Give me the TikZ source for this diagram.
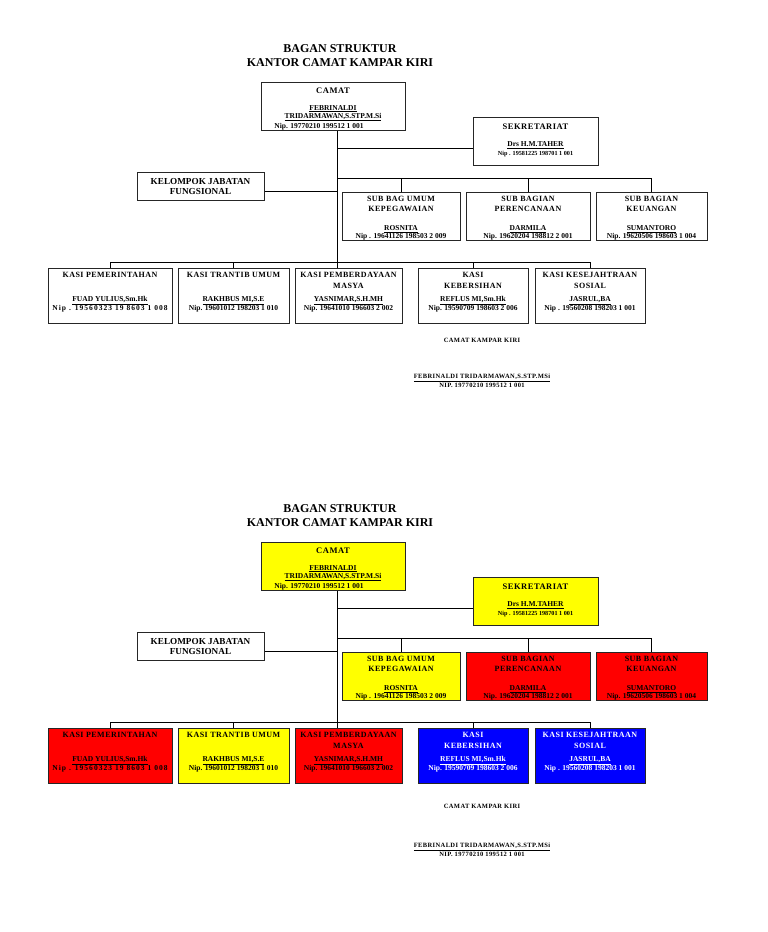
\documentclass[tikz,border=0pt]{standalone}
\usepackage{fontspec}
\setmainfont{Liberation Serif}
\newfontfamily\boxfont[LetterSpace=6]{Liberation Serif}
\newfontfamily\widefont[LetterSpace=14]{Liberation Serif}
\usetikzlibrary{positioning,calc}
\definecolor{ChartYellow}{HTML}{FFFF00}
\definecolor{ChartRed}{HTML}{FF0000}
\definecolor{ChartBlue}{HTML}{0000FF}

\tikzset{
  orgbox/.style={draw=black!85,line width=1pt,inner sep=0pt,
    font=\boxfont\fontsize{8}{9}\selectfont\bfseries},
  link/.style={draw=black,line width=0.8pt},
  tint camat/.style={fill=white},tint sekre/.style={fill=white},
  tint sub1/.style={fill=white},tint sub2/.style={fill=white},tint sub3/.style={fill=white},
  tint kasi1/.style={fill=white},tint kasi2/.style={fill=white},tint kasi3/.style={fill=white},
  tint kasi4/.style={fill=white},tint kasi5/.style={fill=white}
}
\newcommand{\nm}[1]{{\rmfamily\fontsize{7.5}{9}\selectfont\underline{#1}}}
\newcommand{\nip}[1]{{\rmfamily\fontsize{7.5}{9}\selectfont #1}}
\newcommand{\nipwide}[1]{{\widefont\fontsize{7.5}{9}\selectfont #1}}
\newcommand{\boxtitle}[1]{{\fontsize{8.5}{10}\selectfont #1}}
% a framed box whose lines start from its top edge: #1 name, #2 style, #3 centre, #4 width, #5 height, #6 lines
\newcommand{\orgnode}[6]{%
  \node[orgbox,#2,minimum width=#4pt,minimum height=#5pt] (#1) at (#3)
    {\parbox[c][\dimexpr#5pt-2pt\relax][t]{\dimexpr#4pt-4pt\relax}{\vspace*{3.5pt}\centering #6}};}

% one copy of the chart: #1 name prefix, #2 vertical offset, #3 and #4 extra offsets of the signature
\newcommand{\orgchart}[4]{%
\begin{scope}[shift={(0,#2)}]
  \node[font=\fontsize{12}{14}\selectfont\bfseries,align=center] (#1title) at (340,56)
    {BAGAN STRUKTUR\\KANTOR CAMAT KAMPAR KIRI};
  % top
  \orgnode{#1camat}{tint camat}{333,106}{144}{48}
    {\rule{0pt}{6.6pt}\boxtitle{CAMAT}\\[8pt]\nm{FEBRINALDI}\\[-1pt]\nm{TRIDARMAWAN,S.STP.M.Si}\\[1pt]\hspace*{-28pt}\nip{Nip. 19770210 199512 1 001}}
  \orgnode{#1sekre}{tint sekre}{535.5,141}{125}{48}
    {\rule{0pt}{8pt}\boxtitle{SEKRETARIAT}\\[8pt]\nm{Drs H.M.TAHER}\\{\rmfamily\fontsize{6.2}{9}\selectfont Nip . 19581225 198701 1 001}}
  \node[draw=black!85,line width=1pt,minimum width=127pt,minimum height=28pt,inner sep=0pt,align=center,
    font=\fontsize{9.2}{10}\selectfont\bfseries] (#1kjf) at (200.5,186)
    {KELOMPOK JABATAN\\FUNGSIONAL};
  % sub bagian
  \orgnode{#1sub1}{tint sub1}{401,216}{118}{48}
    {SUB BAG UMUM\\[1pt]KEPEGAWAIAN\\[10pt]\nm{ROSNITA}\\[-1pt]\nip{Nip . 19641126 198503 2 009}}
  \orgnode{#1sub2}{tint sub2}{528,216}{124}{48}
    {SUB BAGIAN\\[1pt]PERENCANAAN\\[10pt]\nm{DARMILA}\\[-1pt]\nip{Nip. 19620204 198812 2 001}}
  \orgnode{#1sub3}{tint sub3}{651.5,216}{111}{48}
    {SUB BAGIAN\\[1pt]KEUANGAN\\[10pt]\nm{SUMANTORO}\\[-1pt]\nip{Nip. 19620506 198603 1 004}}
  % kasi
  \orgnode{#1kasi1}{tint kasi1}{110,295.5}{124}{55}
    {KASI PEMERINTAHAN\\[2pt]\mbox{}\\[4pt]\nm{FUAD YULIUS,Sm.Hk}\\\nipwide{Nip . 19560323 19 8603 1 008}}
  \orgnode{#1kasi2}{tint kasi2}{233.5,295.5}{111}{55}
    {KASI TRANTIB UMUM\\[2pt]\mbox{}\\[4pt]\nm{RAKHBUS MI,S.E}\\\nip{Nip. 19601012 198203 1 010}}
  \orgnode{#1kasi3}{tint kasi3}{348.5,295.5}{107}{55}
    {KASI PEMBERDAYAAN\\[2pt]MASYA\\[4pt]\nm{YASNIMAR,S.H.MH}\\\nip{Nip. 19641010 196603 2 002}}
  \orgnode{#1kasi4}{tint kasi4}{473,295.5}{110}{55}
    {KASI\\[2pt]KEBERSIHAN\\[4pt]\nm{REFLUS MI,Sm.Hk}\\\nip{Nip. 19590709 198603 2 006}}
  \orgnode{#1kasi5}{tint kasi5}{590,295.5}{110}{55}
    {KASI KESEJAHTRAAN\\[2pt]SOSIAL\\[4pt]\nm{JASRUL,BA}\\\nip{Nip . 19560208 198203 1 001}}
  % lines
  \coordinate (#1spine) at (337,262);
  \coordinate (#1subbus) at (337,178);
  \draw[link] (#1spine |- #1camat.south) -- (#1spine |- #1kasi3.north);
  \draw[link] ([yshift=-7pt]#1sekre.west) -- ([yshift=-7pt]#1sekre.west -| #1spine);
  \draw[link] ([yshift=-5pt]#1kjf.east) -- ([yshift=-5pt]#1kjf.east -| #1spine);
  \draw[link] (#1subbus) -- (#1subbus -| #1sub3.north);
  \foreach \s in {sub1,sub2,sub3} \draw[link] (#1\s.north) -- (#1\s.north |- #1subbus);
  \draw[link] (#1kasi1.north |- #1spine) -- (#1kasi5.north |- #1spine);
  \foreach \k in {kasi1,kasi2,kasi4,kasi5} \draw[link] (#1\k.north) -- (#1\k.north |- #1spine);
  % signature
  \node[font=\boxfont\fontsize{6.5}{7.5}\selectfont\bfseries] (#1place) at (482,340+#3) {CAMAT KAMPAR KIRI};
  \node[font=\boxfont\fontsize{6.5}{8.5}\selectfont\bfseries,align=center] (#1sign) at (482,381+#4)
    {\underline{FEBRINALDI TRIDARMAWAN,S.STP.MSi}\\[0.5pt]NIP. 19770210 199512 1 001};
\end{scope}}

\begin{document}
\begin{tikzpicture}[x=1pt,y=-1pt]
  \useasboundingbox[fill=white] (0,0) rectangle (768,932);
  \orgchart{a-}{0}{0}{0}
  \tikzset{
    tint camat/.style={fill=ChartYellow},tint sekre/.style={fill=ChartYellow},
    tint sub1/.style={fill=ChartYellow},tint sub2/.style={fill=ChartRed},tint sub3/.style={fill=ChartRed},
    tint kasi1/.style={fill=ChartRed},tint kasi2/.style={fill=ChartYellow},tint kasi3/.style={fill=ChartRed},
    tint kasi4/.style={fill=ChartBlue,text=white},tint kasi5/.style={fill=ChartBlue,text=white}
  }
  \orgchart{b-}{460}{6}{9}
\end{tikzpicture}
\end{document}
